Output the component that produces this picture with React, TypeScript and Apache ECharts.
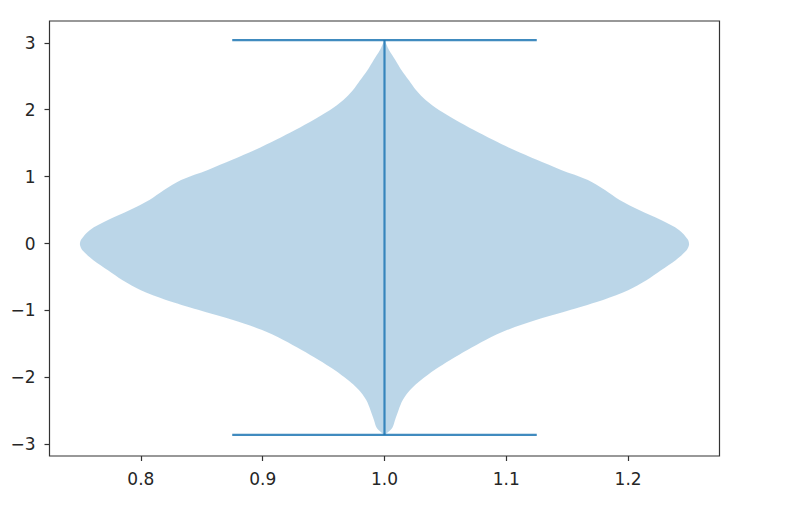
import React, { useEffect, useRef } from "react";
import * as echarts from "echarts";

// Violin profile: value (y) and half-width (x units)
const profileY = [
  3.04, 2.89, 2.74, 2.59, 2.44, 2.29, 2.14, 1.99, 1.85, 1.7, 1.55, 1.4, 1.25, 1.1,
  0.95, 0.8, 0.65, 0.5, 0.35, 0.2, 0.06, -0.02, -0.1, -0.25, -0.4, -0.55, -0.7,
  -0.84, -0.99, -1.14, -1.29, -1.44, -1.59, -1.74, -1.89, -2.04, -2.19, -2.34,
  -2.49, -2.64, -2.76, -2.86,
];
const profileHalfWidth = [
  0.0, 0.0037, 0.009, 0.014, 0.02, 0.026, 0.034, 0.045, 0.058, 0.073, 0.089, 0.106,
  0.125, 0.145, 0.167, 0.181, 0.193, 0.209, 0.227, 0.242, 0.249, 0.25, 0.248,
  0.239, 0.227, 0.215, 0.2, 0.18, 0.153, 0.125, 0.101, 0.083, 0.068, 0.054, 0.041,
  0.03, 0.021, 0.015, 0.0115, 0.0086, 0.0062, 0.0,
];
const position = 1.0;
const dataMin = -2.86;
const dataMax = 3.04;
const capHalf = 0.125;

const xTicks = [0.8, 0.9, 1.0, 1.1, 1.2];
const yTicks = [-3, -2, -1, 0, 1, 2, 3];

const BLUE = "#1f77b4";
const FONT = "DejaVu Sans";

export default function App() {
  const ref = useRef<HTMLDivElement>(null);
  useEffect(() => {
    if (!ref.current) return;
    const chart = echarts.init(ref.current, null, { renderer: "svg" });
    const axisCommon = {
      type: "value" as const,
      splitLine: { show: false },
      axisLine: { show: false, onZero: false },
    };
    chart.setOption({
      animation: false,
      backgroundColor: "#ffffff",
      grid: {
        left: 49.5,
        top: 21,
        right: 91.5,
        bottom: 62,
        show: true,
        borderColor: "#333333",
        borderWidth: 1.2,
        backgroundColor: "transparent",
      },
      xAxis: {
        ...axisCommon,
        position: "bottom",
        min: 0.725,
        max: 1.275,
        axisTick: {
          show: true,
          length: 5,
          customValues: xTicks,
          lineStyle: { color: "#333333", width: 1.2 },
        },
        axisLabel: {
          customValues: xTicks,
          formatter: (v: number) => v.toFixed(1),
          color: "#262626",
          fontFamily: FONT,
          fontSize: 17,
          margin: 14,
        },
      },
      yAxis: {
        ...axisCommon,
        position: "left",
        min: -3.175,
        max: 3.325,
        axisTick: {
          show: true,
          length: 5,
          customValues: yTicks,
          lineStyle: { color: "#333333", width: 1.2 },
        },
        axisLabel: {
          customValues: yTicks,
          formatter: (v: number) => (v < 0 ? "\u2212" + Math.abs(v) : String(v)),
          color: "#262626",
          fontFamily: FONT,
          fontSize: 17,
          margin: 14,
        },
      },
      series: [
        {
          type: "custom",
          coordinateSystem: "cartesian2d",
          data: [[position, 0]],
          clip: false,
          renderItem: (params: any, api: any) => {
            const left = profileY.map((y, i) => api.coord([position - profileHalfWidth[i], y]));
            const right = profileY
              .map((y, i) => api.coord([position + profileHalfWidth[i], y]))
              .reverse();
            const pTop = api.coord([position, dataMax]);
            const pBot = api.coord([position, dataMin]);
            const capTL = api.coord([position - capHalf, dataMax]);
            const capTR = api.coord([position + capHalf, dataMax]);
            const capBL = api.coord([position - capHalf, dataMin]);
            const capBR = api.coord([position + capHalf, dataMin]);
            const lineStyle = { stroke: BLUE, lineWidth: 2.2, opacity: 0.85 };
            return {
              type: "group",
              children: [
                {
                  type: "polygon",
                  shape: { points: left.concat(right), smooth: 0.3 },
                  style: { fill: BLUE, opacity: 0.3, stroke: "none" },
                },
                {
                  type: "line",
                  shape: { x1: pTop[0], y1: pTop[1], x2: pBot[0], y2: pBot[1] },
                  style: lineStyle,
                },
                {
                  type: "line",
                  shape: { x1: capTL[0], y1: capTL[1], x2: capTR[0], y2: capTR[1] },
                  style: lineStyle,
                },
                {
                  type: "line",
                  shape: { x1: capBL[0], y1: capBL[1], x2: capBR[0], y2: capBR[1] },
                  style: lineStyle,
                },
              ],
            };
          },
        },
      ],
    });
    return () => chart.dispose();
  }, []);
  return (
    <div
      ref={ref}
      style={{ position: "fixed", left: 0, top: 0, width: 811, height: 518 }}
    />
  );
}
